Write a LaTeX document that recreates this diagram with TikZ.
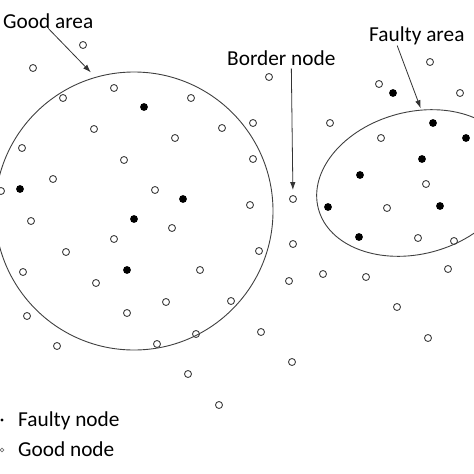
\documentclass[tikz,border=0pt]{standalone}
\usepackage{fontspec}
\setmainfont{Carlito}
\usetikzlibrary{positioning,calc,shapes.geometric,arrows.meta}

\begin{document}
\begin{tikzpicture}[
      x=1pt,y=-1pt,
      >={Latex[length=8pt,width=5.5pt]},
      area/.style={draw=black!75,line width=0.9pt,inner sep=0pt,outer sep=0pt},
      gooddot/.style={draw=black!75,circle,line width=0.9pt,minimum size=7pt,inner sep=0pt},
      faultydot/.style={fill=black,circle,minimum size=7.8pt,inner sep=0pt},
      lbl/.style={inner sep=0pt,font=\fontsize{21.3}{25}\selectfont},
      pointer/.style={draw=black!80,line width=0.8pt,->},
      ]
      \useasboundingbox (0,0) rectangle (474,474);
      % the two areas
      \node[area,circle,minimum size=278pt] (goodarea) at (134,211) {};
      \node[area,ellipse,minimum width=200pt,minimum height=142pt,rotate=15] (faultyarea) at (415,183) {};
      % good nodes
      \foreach \x/\y [count=\i] in {83/45,33/68,269/77,430/62,379/84,460/93,114/88,63/98,
          191/98,94/129,175/138,222/128,253/123,330/123,381/138,22/148,124/160,253/159,
          53/179,1/191,155/190,426/184,250/205,387/208,31/221,172/228,114/239,418/238,
          454/241,66/252,259/251,293/244,23/272,200/270,96/283,289/281,323/274,366/277,
          448/269,231/301,166/302,127/313,27/316,397/307,196/334,157/344,57/346,261/332,
          428/338,188/374,292/362,219/405}
        \node[gooddot] (good\i) at (\x,\y) {};
      \node[gooddot] (borderdot) at (293,199) {};
      % faulty nodes
      \foreach \x/\y [count=\i] in {144/107,20/189,183/199,134/219,127/270,393/93,433/123,
          466/138,422/159,360/175,328/207,440/206,359/237}
        \node[faultydot] (faulty\i) at (\x,\y) {};
      % labels
      \node[lbl,anchor=base west] (goodlbl)   at (3,28)    {Good area};
      \node[lbl,anchor=base west] (borderlbl) at (227,65)  {Border node};
      \node[lbl,anchor=base west] (faultylbl) at (369,41)  {Faulty area};
      \draw[pointer,shorten >=7pt] (goodlbl.south) -- (goodarea.106);
      \draw[pointer,shorten <=3pt,shorten >=5pt] ([xshift=10pt]borderlbl.south) -- (borderdot);
      \draw[pointer,shorten <=1pt,shorten >=2pt] ([xshift=-20pt]faultylbl.south) -- (faultyarea.70);
      % legend
      \node[lbl,anchor=base west] (faultylegend) at (18,426) {Faulty node};
      \node[lbl,anchor=base west] (goodlegend)   at (18,456) {Good node};
      \node[circle,fill=black,minimum size=3.4pt,inner sep=0pt] (faultymark) at (2,420) {};
      \node[circle,draw=black!55,line width=0.6pt,minimum size=3.8pt,inner sep=0pt] (goodmark) at (2,450) {};
\end{tikzpicture}
\end{document}
